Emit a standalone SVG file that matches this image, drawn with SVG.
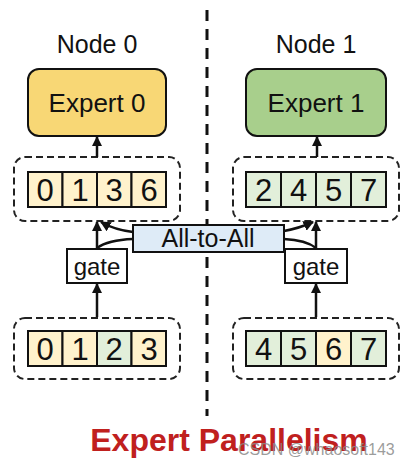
<svg xmlns="http://www.w3.org/2000/svg" width="412" height="466" viewBox="0 0 412 466">
<style>
text{font-family:"Liberation Sans",Arial,sans-serif;fill:#111}
.hdr{font-size:25px;text-anchor:middle}
.exp{font-size:26px;text-anchor:middle}
.dig{font-size:31px;text-anchor:middle}
.gt{font-size:24px;text-anchor:middle}
.dash{fill:none;stroke:#222;stroke-width:2;stroke-dasharray:7 4}
.cell{stroke:#111;stroke-width:2}
.y{fill:#FFF2CC}
.g{fill:#E2EFDA}
.ln{fill:none;stroke:#111;stroke-width:2.5}
</style>
<defs>
<marker id="ah" viewBox="0 0 10 10" refX="9" refY="5" markerWidth="4.2" markerHeight="4.2" orient="auto" markerUnits="strokeWidth">
<path d="M0,0 L10,5 L0,10 z" fill="#111"/>
</marker>
</defs>
<rect width="412" height="466" fill="#fff"/>
<line x1="207" y1="10" x2="207" y2="416" stroke="#111" stroke-width="3" stroke-dasharray="11 8"/>

<g id="node0-label"><text class="hdr" x="97" y="53">Node 0</text></g>
<g id="node1-label"><text class="hdr" x="316" y="53">Node 1</text></g>

<g id="expert0"><rect x="28" y="69" width="138" height="67" rx="11" fill="#F8D775" stroke="#111" stroke-width="2"/><text class="exp" x="97" y="112">Expert 0</text></g>
<g id="expert1"><rect x="246" y="69" width="140" height="67" rx="11" fill="#A8CF8C" stroke="#111" stroke-width="2"/><text class="exp" x="316" y="112">Expert 1</text></g>

<g id="buf0">
<rect class="dash" x="14" y="157" width="166" height="64" rx="11"/>
<rect class="cell y" x="28" y="172" width="34.5" height="35"/><rect class="cell y" x="62.5" y="172" width="34.5" height="35"/><rect class="cell y" x="97" y="172" width="34.5" height="35"/><rect class="cell y" x="131.5" y="172" width="34.5" height="35"/>
<text class="dig" x="45" y="201">0</text><text class="dig" x="80" y="201">1</text><text class="dig" x="114" y="201">3</text><text class="dig" x="149" y="201">6</text>
</g>
<g id="buf1">
<rect class="dash" x="233" y="157" width="166" height="64" rx="11"/>
<rect class="cell g" x="246" y="172" width="35" height="35"/><rect class="cell g" x="281" y="172" width="35" height="35"/><rect class="cell g" x="316" y="172" width="35" height="35"/><rect class="cell g" x="351" y="172" width="35" height="35"/>
<text class="dig" x="263.5" y="201">2</text><text class="dig" x="298.5" y="201">4</text><text class="dig" x="333.5" y="201">5</text><text class="dig" x="368.5" y="201">7</text>
</g>

<g id="gate0"><rect x="67" y="249" width="60" height="34" fill="#fff" stroke="#111" stroke-width="2"/><text class="gt" x="97" y="275">gate</text></g>
<g id="gate1"><rect x="285" y="249" width="62" height="34" fill="#fff" stroke="#111" stroke-width="2"/><text class="gt" x="316" y="275">gate</text></g>

<g id="alltoall"><rect x="133" y="225" width="151" height="27" fill="#DEEBF7" stroke="#111" stroke-width="2"/><text x="208" y="247" style="font-size:25px;text-anchor:middle">All-to-All</text></g>

<g id="in0">
<rect class="dash" x="14" y="318" width="166" height="61" rx="11"/>
<rect class="cell y" x="28" y="331" width="34.5" height="35"/><rect class="cell y" x="62.5" y="331" width="34.5" height="35"/><rect class="cell g" x="97" y="331" width="34.5" height="35"/><rect class="cell y" x="131.5" y="331" width="34.5" height="35"/>
<text class="dig" x="45" y="360">0</text><text class="dig" x="80" y="360">1</text><text class="dig" x="114" y="360">2</text><text class="dig" x="149" y="360">3</text>
</g>
<g id="in1">
<rect class="dash" x="233" y="318" width="166" height="61" rx="11"/>
<rect class="cell g" x="246" y="331" width="35" height="35"/><rect class="cell g" x="281" y="331" width="35" height="35"/><rect class="cell y" x="316" y="331" width="35" height="35"/><rect class="cell g" x="351" y="331" width="35" height="35"/>
<text class="dig" x="263.5" y="360">4</text><text class="dig" x="298.5" y="360">5</text><text class="dig" x="333.5" y="360">6</text><text class="dig" x="368.5" y="360">7</text>
</g>

<g id="connectors">
<line class="ln" x1="97" y1="157" x2="97" y2="137" marker-end="url(#ah)"/>
<line class="ln" x1="317" y1="157" x2="317" y2="137" marker-end="url(#ah)"/>
<line class="ln" x1="97" y1="317" x2="97" y2="284" marker-end="url(#ah)"/>
<line class="ln" x1="316" y1="317" x2="316" y2="284" marker-end="url(#ah)"/>
<line class="ln" x1="97" y1="249" x2="97" y2="222" marker-end="url(#ah)"/>
<line class="ln" x1="316" y1="249" x2="316" y2="222" marker-end="url(#ah)"/>
<path class="ln" d="M97,248 Q108,240 133,239"/>
<path class="ln" d="M133,232 Q115,230 101,222" marker-end="url(#ah)"/>
<path class="ln" d="M316,248 Q306,240 284,239"/>
<path class="ln" d="M284,231 Q300,228 313,222" marker-end="url(#ah)"/>
</g>

<g id="title"><text x="229" y="451" style="font-size:32px;font-weight:bold;fill:#C0201E;text-anchor:middle">Expert Parallelism</text></g>
<g id="watermark"><text x="238" y="455" style="font-size:16px;fill:#8a8a8a;fill-opacity:0.85">CSDN @whaosoft143</text></g>
</svg>
